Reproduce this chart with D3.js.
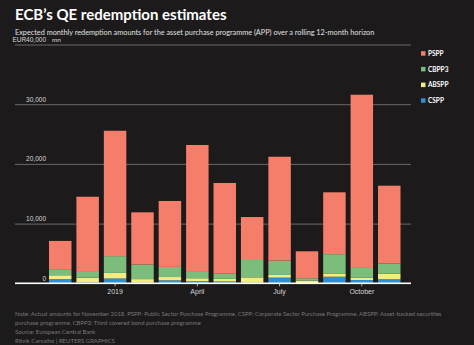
<!DOCTYPE html>
<html>
<head>
<meta charset="utf-8">
<script src="https://cdn.jsdelivr.net/npm/d3@7"></script>
<style>
  body { margin: 0; background: #1c1a1b; }
  svg { display: block; font-family: "Lato", "Open Sans", sans-serif; }
  .grid line { stroke: #6a6869; stroke-width: 1; }
  .grid .domain { display: none; }
  .grid text { fill: #d8d8d8; font-size: 6.5px; }
  .xaxis .domain { display: none; }
  .xaxis line { stroke: #bdbdbd; }
  .xaxis text { fill: #d8d8d8; font-size: 7px; }
  .note { fill: #7a787a; font-size: 5.95px; }
</style>
</head>
<body>
<svg id="chart"></svg>
<script>
"use strict";

var width = 474;
var height = 345;

// months Nov 2018 .. Nov 2019
var months = ["2018-11", "2018-12", "2019-01", "2019-02", "2019-03", "2019-04", "2019-05",
  "2019-06", "2019-07", "2019-08", "2019-09", "2019-10", "2019-11"];
var tickMonths = ["2019-01", "2019-04", "2019-07", "2019-10"];
var tickLabels = ["2019", "April", "July", "October"];

var series = ["CSPP", "ABSPP", "CBPP3", "PSPP"];
var cspp  = [700, 150, 800, 100, 500, 350, 300, 100, 950, 50, 1100, 550, 670];
var abspp = [650, 800, 950, 600, 550, 500, 450, 900, 450, 400, 480, 370, 920];
var cbpp3 = [900, 1100, 2800, 2450, 1700, 1200, 850, 2900, 2400, 400, 3300, 1650, 1720];
var pspp  = [4850, 12450, 21000, 8740, 11040, 21120, 15200, 7200, 17400, 4510, 10360, 29020, 13040];

var colors = { PSPP: "#f47e69", CBPP3: "#7dbd7b", ABSPP: "#f3ec83", CSPP: "#2f8fd2" };
var legendOrder = ["PSPP", "CBPP3", "ABSPP", "CSPP"];

var yTicks = [0, 10000, 20000, 30000, 40000];

var rows = months.map(function (m, i) {
  return { month: m, CSPP: cspp[i], ABSPP: abspp[i], CBPP3: cbpp3[i], PSPP: pspp[i] };
});

var svg = d3.select("#chart").attr("width", width).attr("height", height);

var left = 15, right = 411;
var x = d3.scaleBand().domain(months).range([49, 400.5]).paddingInner(0.18).paddingOuter(0);
var y = d3.scaleLinear().domain([0, 40000]).range([283.3, 44.5]);

// title block
svg.append("text").attr("x", 15).attr("y", 19.5)
  .attr("fill", "#ffffff").attr("font-weight", 700).attr("font-size", "15px")
  .text("ECB\u2019s QE redemption estimates");
svg.append("text").attr("x", 15).attr("y", 35)
  .attr("fill", "#e0e0e0").attr("font-size", "7.3px")
  .text("Expected monthly redemption amounts for the asset purchase programme (APP) over a rolling 12-month horizon");

// gridlines + y labels
var grid = svg.append("g").attr("class", "grid").attr("transform", "translate(" + left + ",0)")
  .call(d3.axisRight(y).tickValues(yTicks).tickSize(right - left)
    .tickFormat(function (d) { return d === 40000 ? "EUR" + d3.format(",")(d) : d3.format(",")(d); }));
grid.selectAll("text").attr("x", 31).attr("dy", "-0.45em").attr("text-anchor", "end");
svg.append("text").attr("x", 52).attr("y", y(40000) - 3)
  .attr("fill", "#d8d8d8").attr("font-size", "6.5px").text("mn");

// bars
var stacked = d3.stack().keys(series)(rows);
svg.append("g").selectAll("g").data(stacked).enter().append("g")
  .attr("fill", function (d) { return colors[d.key]; })
  .selectAll("rect").data(function (d) { return d; }).enter().append("rect")
  .attr("x", function (d) { return x(d.data.month); })
  .attr("width", x.bandwidth())
  .attr("y", function (d) { return y(d[1]); })
  .attr("height", function (d) { return y(d[0]) - y(d[1]); });

// baseline
svg.append("line").attr("x1", left).attr("x2", right)
  .attr("y1", y(0)).attr("y2", y(0))
  .attr("stroke", "#ffffff").attr("stroke-width", 1.5);

// x axis
svg.append("g").attr("class", "xaxis").attr("transform", "translate(0," + (y(0) + 0.5) + ")")
  .call(d3.axisBottom(x).tickValues(tickMonths).tickSize(2.5).tickPadding(3)
    .tickFormat(function (d) { return tickLabels[tickMonths.indexOf(d)]; }));

// legend
var legend = svg.append("g").selectAll("g").data(legendOrder).enter().append("g")
  .attr("transform", function (d, i) { return "translate(421," + (53.7 + i * 15.7) + ")"; });
legend.append("rect").attr("x", 0).attr("y", -2.5).attr("width", 4.5).attr("height", 4.5)
  .attr("fill", function (d) { return colors[d]; });
legend.append("text").attr("x", 7).attr("y", 0).attr("dy", "0.35em")
  .attr("fill", "#ffffff").attr("font-weight", 700).attr("font-size", "6.5px")
  .text(function (d) { return d; });

// notes
var notes = [
  "Note: Actual amounts for November 2018. PSPP: Public Sector Purchase Programme, CSPP: Corporate Sector Purchase Programme, ABSPP: Asset-backed securities",
  "purchase programme, CBPP3: Third covered bond purchase programme",
  "Source: European Central Bank",
  "Ritvik Carvalho    | REUTERS GRAPHICS"
];
svg.append("g").selectAll("text").data(notes).enter().append("text")
  .attr("class", "note").attr("x", 15)
  .attr("y", function (d, i) { return 315.5 + i * 9; })
  .text(function (d) { return d; });
</script>
</body>
</html>
